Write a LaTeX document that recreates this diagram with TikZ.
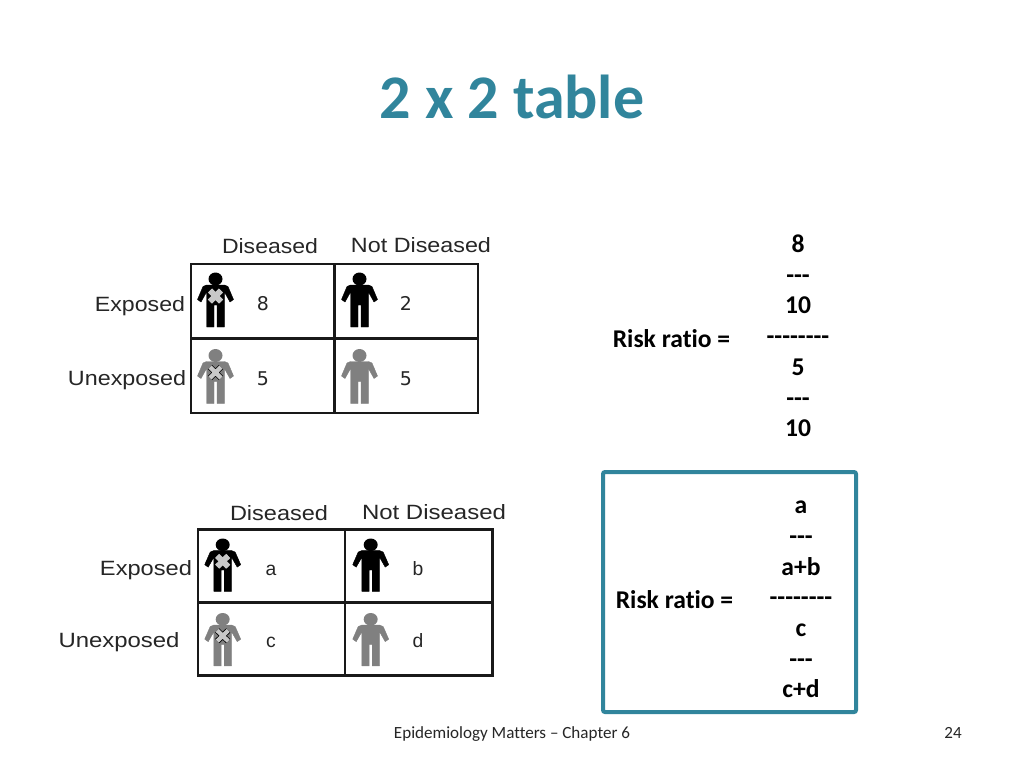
\documentclass[tikz,border=0pt]{standalone}
\usepackage{fontspec}
\newfontfamily\calfont[Ligatures=NoCommon]{Carlito}
\newfontfamily\tablefont{Liberation Sans}
\newfontfamily\valfont{DejaVu Sans}
\definecolor{teal1}{HTML}{31859C}
\definecolor{fig}{HTML}{808080}
\definecolor{xcol}{HTML}{C8C8C8}
\newlength{\pxunit}\setlength{\pxunit}{0.75pt}
\newcommand{\fitw}[2]{\resizebox{#1\pxunit}{\height}{#2}}
\tikzset{
  x=0.75pt,y=-0.75pt,
  grid/.style={draw=black!90,line width=2.1pt},
  titletext/.style={font=\calfont\fontsize{46.5}{46.5}\selectfont\bfseries,text=teal1,inner sep=0},
  formula/.style={font=\calfont\fontsize{19.2}{19.2}\selectfont\bfseries,inner sep=0,anchor=base},
  foot/.style={font=\calfont\fontsize{12.8}{12.8}\selectfont,inner sep=0,text=black!85,anchor=base},
  lab/.style={font=\tablefont\fontsize{15.5}{15.5}\selectfont,inner sep=0,text=black!85,anchor=base},
  val/.style={font=\valfont\fontsize{14.2}{14.2}\selectfont,inner sep=0,text=black!85,anchor=base},
  valb/.style={font=\tablefont\fontsize{14.5}{14.5}\selectfont,inner sep=0,text=black!85,anchor=base},
  pics/person/.style args={#1/#2}{code={
    \fill[#1] (0,0) ellipse (7 and 6.5);
    \fill[#1,line join=round,draw=#1,line width=0.3pt]
      (-9,6)--(9,6)--(12.5,7.5)--(18,20.5)--(14.5,23)--(9.5,14)--(8.8,14)--(8.8,48)--(1.5,48)--(1.5,26)--(-1.5,26)--(-1.5,48)--(-8.8,48)--(-8.8,14)--(-9.5,14)--(-14.5,23)--(-18,20.5)--(-12.5,7.5)--cycle;
    \ifx#2n\else
      \draw[#2,line width=4.4pt] (-5.5,11.5)--(5.5,22.5) (5.5,11.5)--(-5.5,22.5);
      \draw[xcol,line width=3.2pt] (-5.5,11.5)--(5.5,22.5) (5.5,11.5)--(-5.5,22.5);
    \fi
  }}
}
\begin{document}
\begin{tikzpicture}
\useasboundingbox[fill=white] (0,0) rectangle (1024,768);
\node[titletext] (title) at (512,97) {2 x 2 table};
% upper table
\draw[grid] (191,264) rectangle (478,413);
\draw[grid] (334.5,264) -- (334.5,413);
\draw[grid] (191,338.5) -- (478,338.5);
\node[lab] (d1) at (270,253) {\fitw{96}{Diseased}};
\node[lab] (n1) at (421,252) {\fitw{140}{Not Diseased}};
\node[lab] (e1) at (140,311) {\fitw{90}{Exposed}};
\node[lab] (u1) at (127,385) {\fitw{118}{Unexposed}};
\pic at (215.5,279) {person={black/xcol}};
\pic at (359.5,279) {person={black/n}};
\pic at (215.5,355.5) {person={fig/black}};
\pic at (359.5,355.5) {person={fig/n}};
\node[val] (a1) at (263,310) {8};
\node[val] (b1) at (406,310) {2};
\node[val] (c1) at (263,385) {5};
\node[val] (c2) at (406,385) {5};
% lower table
\draw[grid] (198,529.5) rectangle (492.5,675.5);
\draw[grid] (345,529.5) -- (345,675.5);
\draw[grid] (198,602.7) -- (492.5,602.7);
\node[lab] (d2) at (279,520) {\fitw{98}{Diseased}};
\node[lab] (n2) at (434,519) {\fitw{144}{Not Diseased}};
\node[lab] (e2) at (146,575.5) {\fitw{92}{Exposed}};
\node[lab] (u2) at (119,647.5) {\fitw{121}{Unexposed}};
\pic[yscale=0.97] at (222.7,544.8) {person={black/xcol}};
\pic[yscale=0.97] at (370.7,544.8) {person={black/n}};
\pic[yscale=0.97] at (222.7,619.3) {person={fig/black}};
\pic[yscale=0.97] at (370.7,619.3) {person={fig/n}};
\node[valb] (a2) at (271,575) {a};
\node[valb] (b2) at (418,575) {b};
\node[valb] (c3) at (271,647.5) {c};
\node[valb] (d3) at (418,647.5) {d};
% upper formula
\node[formula] (rr1) at (671.5,347) {Risk ratio =};
\node[formula] (u8) at (798,252) {8};
\node[formula] (ud1) at (798,283) {---};
\node[formula] (u10) at (798,313.5) {10};
\node[formula] (ub) at (798,344) {--------};
\node[formula] (u5) at (798,375) {5};
\node[formula] (ud2) at (798,406) {---};
\node[formula] (u10b) at (798,436.5) {10};
% lower box
\node[draw=teal1,line width=3pt,rounded corners=1.5pt,minimum width=189.75pt,minimum height=180pt,inner sep=0] (box) at (729.5,592) {};
\node[formula] (rr2) at (674.5,608) {Risk ratio =};
\node[formula] (la) at (801,513) {a};
\node[formula] (ld1) at (801,544) {---};
\node[formula] (lab) at (801,575) {a+b};
\node[formula] (lb) at (801,605.5) {--------};
\node[formula] (lc) at (801,636.5) {c};
\node[formula] (ld2) at (801,667) {---};
\node[formula] (lcd) at (801,697.7) {c+d};
% footer
\node[foot] (f1) at (512,738) {Epidemiology Matters – Chapter 6};
\node[foot] (f2) at (953,738) {24};
\end{tikzpicture}
\end{document}
